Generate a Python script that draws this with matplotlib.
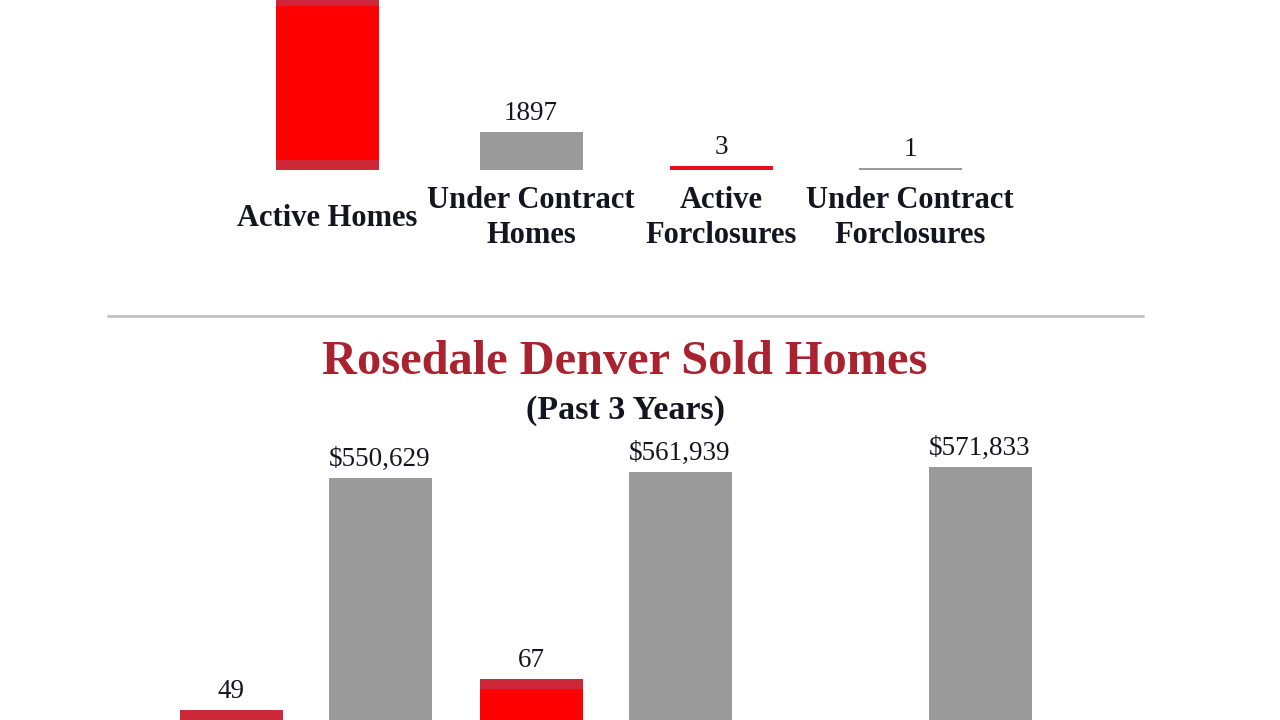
import matplotlib.pyplot as plt

# ---- data -------------------------------------------------------------
# top summary (Active Homes bar runs off the top of the picture, value estimated)
status_labels = ['Active Homes', 'Under Contract\nHomes', 'Active\nForclosures',
                 'Under Contract\nForclosures']
status_counts = [8700, 1897, 3, 1]
status_shown = ['', '1897', '3', '1']

# sold homes, past 3 years (third count bar is below the picture edge)
sold_counts = [49, 67]
avg_prices = [550629, 561939, 571833]

# ---- layout / style -----------------------------------------------------
W, H = 1280, 720
RED = '#ff0000'
BAND = '#cc2838'
GRAY = '#9a9a9a'
TXT = '#15151f'
TITLE_RED = '#a8232f'

status_x = [327, 531, 721, 910]
status_colors = [RED, GRAY, '#e8101c', GRAY]
status_min_px = [0, 0, 4, 2]
count_x = [231, 531]
price_x = [380, 680, 980]
bar_w = 103

plt.rcParams['font.family'] = ['Liberation Serif', 'DejaVu Serif']


def fy(py):
    return 1 - py / H


fig = plt.figure(figsize=(12.8, 7.2), dpi=100)
fig.patch.set_facecolor('white')

# ---- top chart: axes from pixel 0 to the baseline at 170 ------------------
top_px = 170
top_scale = 38 / 1897.0  # px per home
ax1 = fig.add_axes([0, fy(top_px), 1, top_px / H])
ax1.set_xlim(0, W)
ax1.set_ylim(0, top_px / top_scale)
ax1.axis('off')

for x, v, c, mpx, s in zip(status_x, status_counts, status_colors, status_min_px, status_shown):
    h = max(v, mpx / top_scale)
    ax1.bar(x, h, width=bar_w, color=c, linewidth=0)
    if s:
        ax1.annotate(s, (x, h), xytext=(0, 4), textcoords='offset points',
                     ha='center', va='bottom', fontsize=19.5, color=TXT)

# darker bands on the big red bar
band = 10 / top_scale
ax1.bar(status_x[0], band, bottom=0, width=bar_w, color=BAND, linewidth=0)
ax1.bar(status_x[0], band, bottom=status_counts[0] - band, width=bar_w, color=BAND, linewidth=0)

for x, lab in zip(status_x, status_labels):
    fig.text(x / W, fy(218), lab, ha='center', va='center', fontsize=22,
             fontweight='bold', color=TXT, linespacing=1.3)

# separator line
fig.add_artist(plt.Line2D([108 / W, 1143 / W], [fy(316), fy(316)],
                          color='#bdbdbd', linewidth=1.8))

fig.text(625 / W, fy(362), 'Rosedale Denver Sold Homes', ha='center', va='center',
         fontsize=34.8, fontweight='bold', color=TITLE_RED)
fig.text(625 / W, fy(411), '(Past 3 Years)', ha='center', va='center',
         fontsize=24.5, fontweight='bold', color=TXT)

# ---- bottom chart: axes from pixel 400 to 800 (runs below the picture) ----
ax2 = fig.add_axes([0, fy(800), 1, 400 / H])
ax2.set_xlim(0, W)
cnt_base, cnt_scale = 794.4, 1.722
ax2.set_ylim((cnt_base - 800) / cnt_scale, (cnt_base - 400) / cnt_scale)
ax2.axis('off')

ax3 = ax2.twinx()
price_base, price_scale = 763.6, 0.000519
ax3.set_ylim((price_base - 800) / price_scale, (price_base - 400) / price_scale)
ax3.axis('off')

cband = 10 / cnt_scale
for x, v in zip(count_x, sold_counts):
    ax2.bar(x, v, width=bar_w, color=RED, linewidth=0)
    ax2.bar(x, cband, bottom=v - cband, width=bar_w, color=BAND, linewidth=0)
    ax2.annotate(str(v), (x, v), xytext=(0, 4), textcoords='offset points',
                 ha='center', va='bottom', fontsize=19.5, color=TXT)

for x, v in zip(price_x, avg_prices):
    ax3.bar(x, v, width=bar_w, color=GRAY, linewidth=0)
    ax3.annotate('${:,}'.format(v), (x, v), xytext=(0, 4), textcoords='offset points',
                 ha='center', va='bottom', fontsize=19.5, color=TXT)

fig.savefig('out.png', dpi=100, facecolor='white')
